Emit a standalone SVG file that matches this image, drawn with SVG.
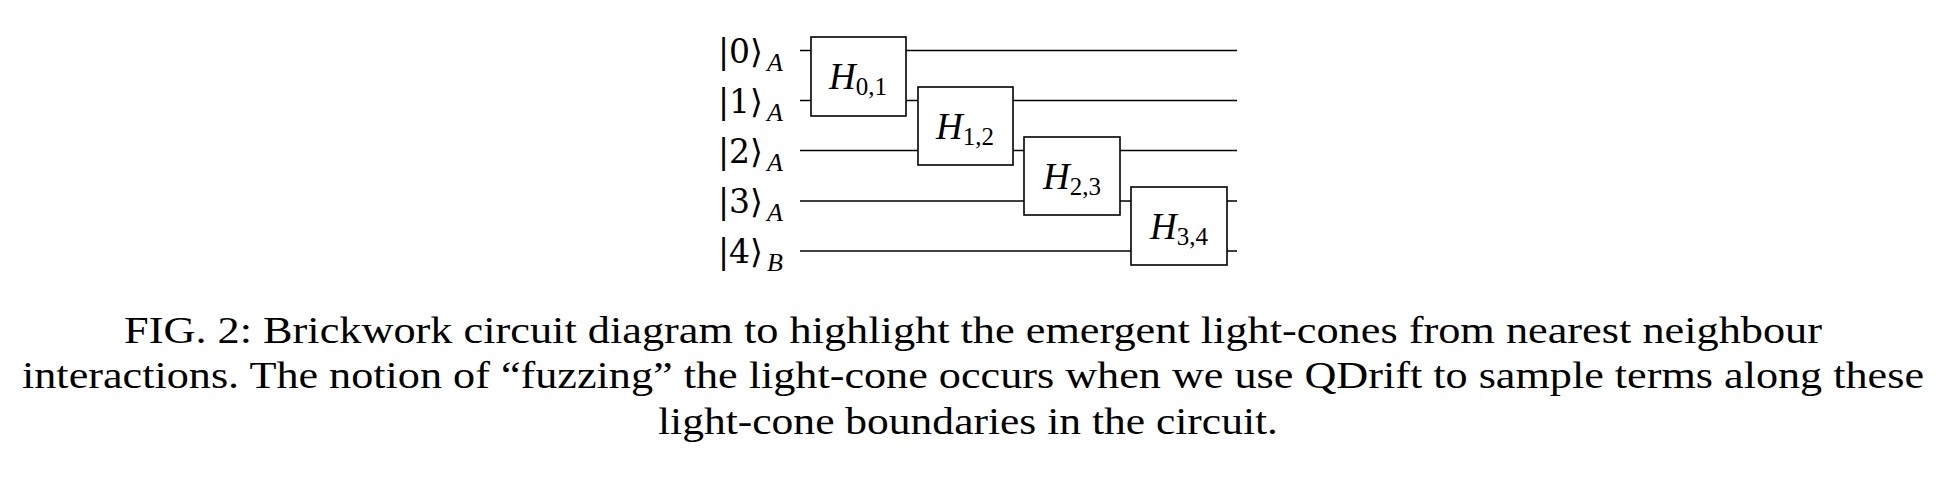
<svg xmlns="http://www.w3.org/2000/svg" width="1946" height="478" viewBox="0 0 1946 478">
<style>
.w{stroke:#000;stroke-width:1.6;fill:none}
.b{stroke:#000;stroke-width:1.6;fill:#fff}
.k{font-family:"DejaVu Serif","Liberation Serif",serif;font-size:33px;fill:#000}
.s{font-family:"Liberation Serif",serif;font-style:italic;font-size:26px}
.h{font-family:"Liberation Serif","DejaVu Serif",serif;font-size:37px;fill:#000;text-anchor:middle}
.c{font-family:"Liberation Serif",serif;font-size:37px;fill:#000}
</style>
<rect width="1946" height="478" fill="#fff"/>
<g id="connectors">
<path class="w" d="M800 50.5H811M906 50.5H1237"/>
<path class="w" d="M800 100.5H811M906 100.5H918M1013 100.5H1237"/>
<path class="w" d="M800 150.5H918M1013 150.5H1024M1120 150.5H1237"/>
<path class="w" d="M800 201H1024M1120 201H1131M1227 201H1237"/>
<path class="w" d="M800 251H1131M1227 251H1237"/>
</g>
<g id="labels">
<text class="k" x="718" y="63">|0⟩<tspan class="s" dx="4" dy="8">A</tspan></text>
<text class="k" x="718" y="113">|1⟩<tspan class="s" dx="4" dy="8">A</tspan></text>
<text class="k" x="718" y="163">|2⟩<tspan class="s" dx="4" dy="8">A</tspan></text>
<text class="k" x="718" y="213">|3⟩<tspan class="s" dx="4" dy="8">A</tspan></text>
<text class="k" x="718" y="263">|4⟩<tspan class="s" dx="4" dy="8">B</tspan></text>
</g>
<g id="H01"><rect class="b" x="811" y="37" width="95" height="79"/><text class="h" x="858" y="89"><tspan font-style="italic">H</tspan><tspan font-size="25" dy="6">0,1</tspan></text></g>
<g id="H12"><rect class="b" x="918" y="87" width="95" height="78"/><text class="h" x="965" y="139"><tspan font-style="italic">H</tspan><tspan font-size="25" dy="6">1,2</tspan></text></g>
<g id="H23"><rect class="b" x="1024" y="137" width="96" height="78"/><text class="h" x="1072" y="189"><tspan font-style="italic">H</tspan><tspan font-size="25" dy="6">2,3</tspan></text></g>
<g id="H34"><rect class="b" x="1131" y="187" width="96" height="78"/><text class="h" x="1179" y="239"><tspan font-style="italic">H</tspan><tspan font-size="25" dy="6">3,4</tspan></text></g>
<g id="caption">
<text class="c" x="124" y="343" textLength="1698" lengthAdjust="spacingAndGlyphs">FIG. 2: Brickwork circuit diagram to highlight the emergent light-cones from nearest neighbour</text>
<text class="c" x="22" y="388" textLength="1902" lengthAdjust="spacingAndGlyphs">interactions. The notion of “fuzzing” the light-cone occurs when we use QDrift to sample terms along these</text>
<text class="c" x="658" y="434" textLength="620" lengthAdjust="spacingAndGlyphs">light-cone boundaries in the circuit.</text>
</g>
</svg>
